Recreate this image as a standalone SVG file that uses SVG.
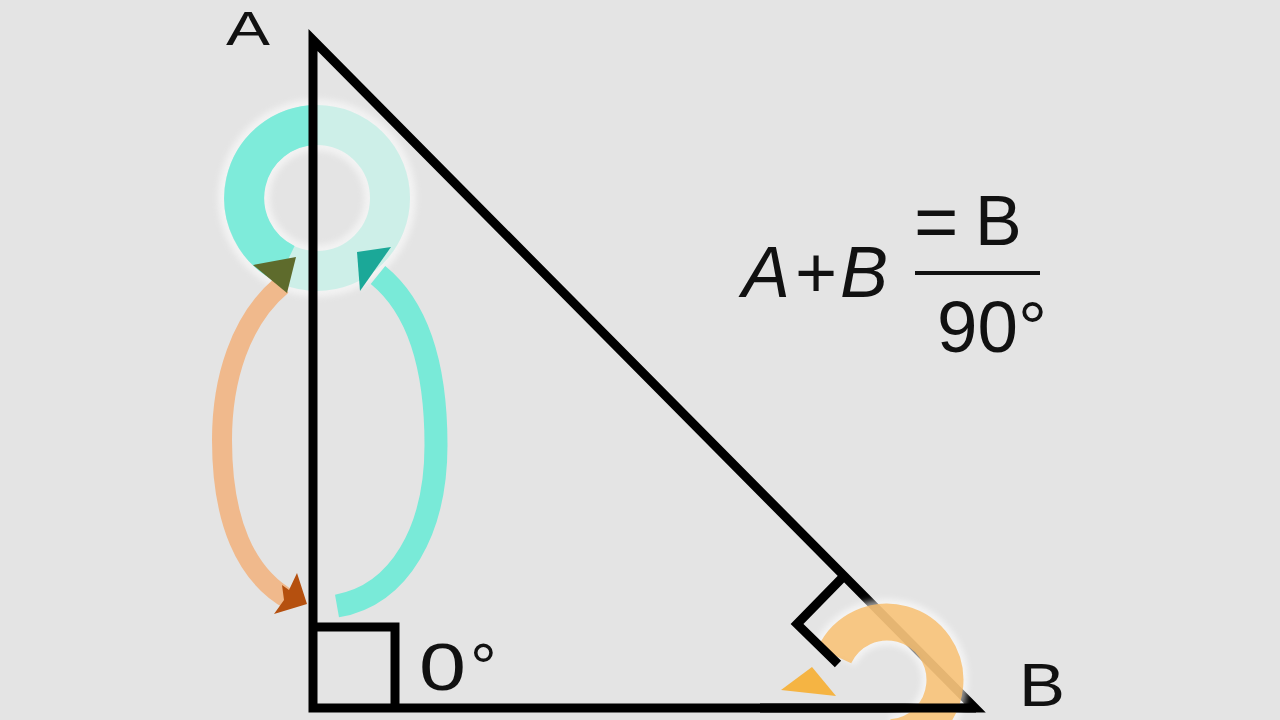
<svg xmlns="http://www.w3.org/2000/svg" width="1280" height="720" viewBox="0 0 1280 720">
<defs>
<filter id="blur" x="-30%" y="-30%" width="160%" height="160%"><feGaussianBlur stdDeviation="3"/></filter>
<style>
.ln{fill:none;stroke:#000;stroke-width:9;stroke-linejoin:miter}
.tx{font-family:"Liberation Sans",Arial,sans-serif;fill:#111}
</style>
</defs>
<rect width="1280" height="720" fill="#E4E4E4"/>
<g id="ring-a">
<circle cx="317" cy="198" r="73" fill="none" stroke="#FFFFFF" stroke-width="52" opacity="0.55" filter="url(#blur)"/>
<circle cx="317" cy="198" r="73" fill="none" stroke="#CDEFE8" stroke-width="40"/>
<path d="M317,125 A73,73 0 0 0 286,264" fill="none" stroke="#7EEBDA" stroke-width="40"/>
</g>
<g id="connectors">
<path d="M282,285 C240,320 222,380 222,440 C222,520 245,575 290,600" fill="none" stroke="#F0B98C" stroke-width="20"/>
<polygon points="297,573 307,604 274,614 284,600 282,585 289,590" fill="#B5500F"/>
<path d="M337,606 C400,595 436,530 436,445 C436,360 415,305 378,275" fill="none" stroke="#79EAD8" stroke-width="23"/>
<polygon points="357,252 391,247 360,291" fill="#1BA898"/>
<polygon points="253,265 296,257 287,293" fill="#5E6B2C"/>
</g>
<g id="triangle">
<polygon class="ln" points="313,40 313,708 975,708"/>
<path class="ln" d="M313,627 H395 V708" stroke-width="8"/>
</g>
<g id="ring-b">
<path d="M834.4,655.5 A58,58 0 1 1 892,737.8" fill="none" stroke="#FFFFFF" stroke-width="46" opacity="0.6" filter="url(#blur)"/>
<path d="M834.4,655.5 A58,58 0 1 1 892,737.8" fill="none" stroke="#F7BC68" stroke-width="37" opacity="0.8"/>
<polygon points="781,690 812,667 836,696" fill="#F5B443"/>
<path d="M760,708 H976" class="ln"/>
<path d="M843,577 L797,624 L838,664" class="ln" stroke-width="8"/>
</g>
<g id="labels">
<text class="tx" x="226" y="45" font-size="49" textLength="44" lengthAdjust="spacingAndGlyphs">A</text>
<text class="tx" x="1019" y="706" font-size="62" textLength="46" lengthAdjust="spacingAndGlyphs">B</text>
<text class="tx" x="419" y="690" font-size="67" textLength="47" lengthAdjust="spacingAndGlyphs">0</text>
<text class="tx" x="470" y="690" font-size="67">°</text>
</g>
<g id="formula">
<text class="tx" x="742" y="297" font-size="72" font-style="italic" letter-spacing="4">A+B</text>
<text class="tx" x="914" y="248" font-size="76">=</text>
<text class="tx" x="975" y="245" font-size="70">B</text>
<path d="M915,273 H1040" stroke="#111" stroke-width="4"/>
<text class="tx" x="937" y="352" font-size="72" textLength="110" lengthAdjust="spacingAndGlyphs">90°</text>
</g>
</svg>
